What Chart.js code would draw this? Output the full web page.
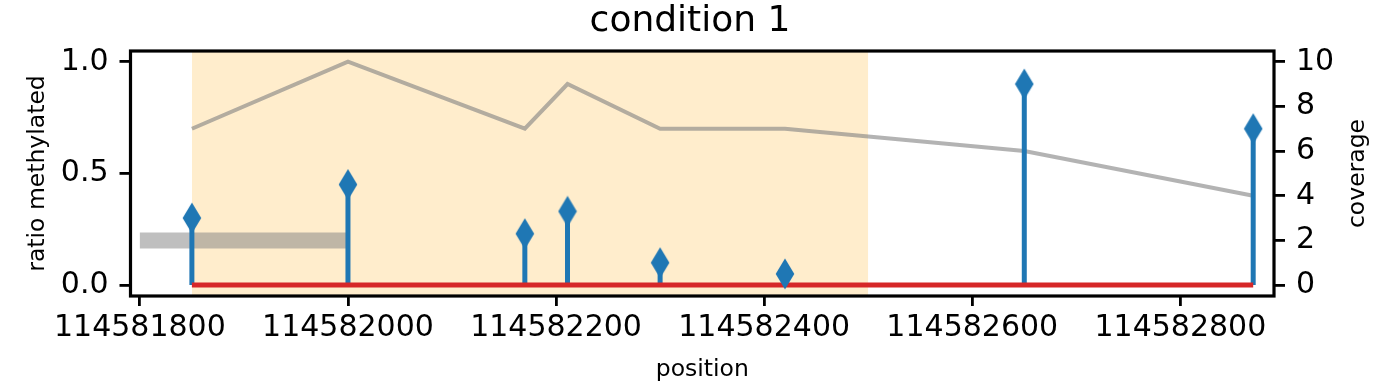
<!DOCTYPE html>
<html><head><meta charset="utf-8">
<script src="https://cdn.jsdelivr.net/npm/chart.js@4"></script>
<style>html,body{margin:0;padding:0;background:#fff}#wrap{width:1380px;height:387px;position:relative}</style>
</head><body><div id="wrap"><canvas id="c"></canvas></div>
<script>
// ---- data ----
const positions = [114581850, 114582000, 114582170, 114582211, 114582300, 114582420, 114582650, 114582870];
const ratioMethylated = [0.30, 0.45, 0.23, 0.33, 0.10, 0.05, 0.90, 0.70];
const coverage = [7, 10, 7, 9, 7, 7, 6, 4];
const regionSpan = [114581850, 114582500];
const featureBar = [114581800, 114582000];
const featureBarLevel = 0.2;
const xTicks = [114581800, 114582000, 114582200, 114582400, 114582600, 114582800];
const yTicks = [0, 0.5, 1.0];
const y2Ticks = [0, 2, 4, 6, 8, 10];
const xRange = [114581791, 114582890];
const yRange = [-0.049, 1.048];
const y2Range = [-0.49, 10.48];

Chart.defaults.font.family = "'DejaVu Sans', sans-serif";
Chart.defaults.color = '#000';

// thin diamond marker
function thinDiamond(w, h, color) {
  const c = document.createElement('canvas');
  c.width = w; c.height = h;
  const g = c.getContext('2d');
  g.fillStyle = color;
  g.beginPath();
  g.moveTo(w / 2, 0.5); g.lineTo(w - 0.7, h / 2); g.lineTo(w / 2, h - 0.5); g.lineTo(0.7, h / 2);
  g.closePath(); g.fill();
  return c;
}
const diamond = thinDiamond(20, 32, '#1f77b4');

const stemData = positions.flatMap((p, i) => [{x: p, y: 0}, {x: p, y: ratioMethylated[i]}, {x: p, y: null}]);
const baseData = [{x: Math.min(...positions), y: 0}, {x: Math.max(...positions), y: 0}];
const markerData = positions.map((p, i) => ({x: p, y: ratioMethylated[i]}));
const coverageData = positions.map((p, i) => ({x: p, y: coverage[i]}));
const spanData = [{x: regionSpan[0], y: yRange[1]}, {x: regionSpan[1], y: yRange[1]}];
const barData = [{x: featureBar[0], y: featureBarLevel}, {x: featureBar[1], y: featureBarLevel}];

const frame = {
  id: 'frame',
  afterDatasetsDraw(chart) {
    const {ctx, chartArea: a} = chart;
    ctx.save();
    ctx.strokeStyle = '#000'; ctx.lineWidth = 3.2;
    ctx.strokeRect(a.left, a.top, a.right - a.left, a.bottom - a.top);
    ctx.restore();
  },
  afterDraw(chart) {
    const {ctx, chartArea: a} = chart;
    ctx.save();
    ctx.font = "23.5px 'DejaVu Sans'";
    ctx.fillStyle = '#000';
    ctx.textAlign = 'center'; ctx.textBaseline = 'middle';
    ctx.translate(1357.5, (a.top + a.bottom) / 2);
    ctx.rotate(-Math.PI / 2);
    ctx.fillText('coverage', 0, 0);
    ctx.restore();
  }
};

const tickGrid = {drawOnChartArea: false, drawTicks: true, tickLength: 11, color: '#000', lineWidth: 2.8};

new Chart(document.getElementById('c'), {
  type: 'line',
  data: {
    datasets: [
      {data: markerData, yAxisID: 'y', showLine: false, pointStyle: diamond, pointRadius: 10, order: 0},
      {data: baseData, yAxisID: 'y', borderColor: '#d62728', borderWidth: 5, pointRadius: 0, borderCapStyle: 'butt', order: 1},
      {data: stemData, yAxisID: 'y', borderColor: '#1f77b4', borderWidth: 5, pointRadius: 0, spanGaps: false, borderCapStyle: 'butt', order: 2},
      {data: coverageData, yAxisID: 'y2', borderColor: 'rgba(128,128,128,0.6)', borderWidth: 4, pointRadius: 0, tension: 0, order: 3},
      {data: barData, yAxisID: 'y', borderColor: 'rgba(128,128,128,0.5)', borderWidth: 16, pointRadius: 0, borderCapStyle: 'butt', order: 4},
      {data: spanData, yAxisID: 'y', borderWidth: 0, borderColor: 'rgba(0,0,0,0)', backgroundColor: 'rgba(255,165,0,0.2)', fill: 'start', pointRadius: 0, order: 5}
    ]
  },
  options: {
    responsive: true, maintainAspectRatio: false, animation: false,
    layout: {padding: 0},
    plugins: {
      legend: {display: false}, tooltip: {enabled: false},
      title: {display: true, text: 'condition 1', font: {size: 36, weight: 'normal'}, color: '#000', padding: {top: 0, bottom: 7.8}}
    },
    scales: {
      x: {
        type: 'linear', min: xRange[0], max: xRange[1],
        afterBuildTicks: s => { s.ticks = xTicks.map(v => ({value: v})); },
        afterFit: s => { s.height = 91; },
        ticks: {callback: v => String(v), font: {size: 30}, color: '#000', padding: 4, maxRotation: 0, autoSkip: false},
        grid: Object.assign({}, tickGrid, {tickLength: 10}),
        border: {display: false},
        title: {display: true, text: 'position', font: {size: 23.5}, color: '#000', padding: {top: 0, bottom: 3}}
      },
      y: {
        type: 'linear', position: 'left', min: yRange[0], max: yRange[1],
        afterBuildTicks: s => { s.ticks = yTicks.map(v => ({value: v})); },
        afterFit: s => { s.width = 130.5; },
        ticks: {callback: v => v.toFixed(1), font: {size: 30}, color: '#000', padding: 11},
        grid: tickGrid,
        border: {display: false},
        title: {display: true, text: 'ratio methylated', font: {size: 23.5}, color: '#000', padding: {top: 24, bottom: 0}}
      },
      y2: {
        type: 'linear', position: 'right', min: y2Range[0], max: y2Range[1],
        afterBuildTicks: s => { s.ticks = y2Ticks.map(v => ({value: v})); },
        afterFit: s => { s.width = 106; },
        ticks: {callback: v => String(v), font: {size: 30}, color: '#000', padding: 11},
        grid: tickGrid,
        border: {display: false}
      }
    }
  },
  plugins: [frame]
});
</script>
</body></html>
